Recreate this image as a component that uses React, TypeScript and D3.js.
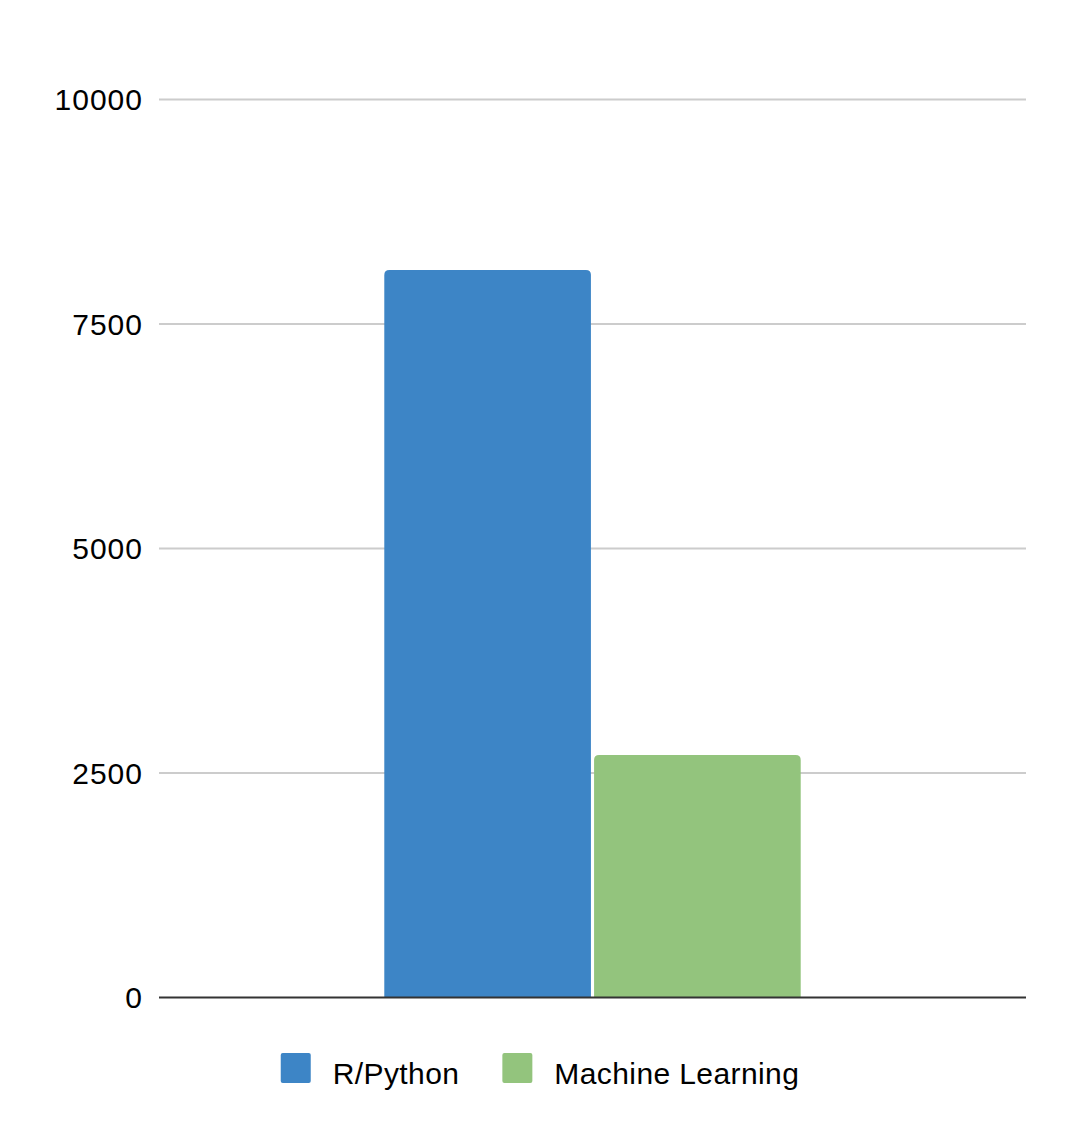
import React, { useEffect, useRef } from 'react';
import * as d3 from 'd3';

const categories = [''];
const seriesNames = ['R/Python', 'Machine Learning'];
const seriesValues = [8100, 2700];
const seriesColors = ['#3d85c6', '#93c47d'];
const yTicks = [0, 2500, 5000, 7500, 10000];

const WIDTH = 1080;
const HEIGHT = 1129;
const FONT = '"Liberation Sans", Arial, sans-serif';

// path for a bar with rounded top corners only
const barPath = (x: number, y: number, w: number, h: number, r: number) => {
  const rr = Math.min(r, w / 2, h);
  return `M${x},${y + h}V${y + rr}Q${x},${y} ${x + rr},${y}H${x + w - rr}Q${x + w},${y} ${x + w},${y + rr}V${y + h}Z`;
};

const App: React.FC = () => {
  const svgRef = useRef<SVGSVGElement | null>(null);

  useEffect(() => {
    const svg = d3.select(svgRef.current);
    svg.selectAll('*').remove();

    const left = 159;
    const right = 1026;
    const y = d3.scaleLinear().domain([0, 10000]).range([997.5, 99.5]);

    const x0 = d3.scaleBand<string>().domain(categories).range([left, right]).paddingInner(0).paddingOuter(0.541);
    const x1 = d3.scaleBand<string>().domain(seriesNames).range([0, x0.bandwidth()]).paddingInner(0.015);

    // gridlines
    svg.append('g')
      .selectAll('line')
      .data(yTicks.filter((t) => t !== 0))
      .enter()
      .append('line')
      .attr('x1', left)
      .attr('x2', right)
      .attr('y1', (d) => y(d))
      .attr('y2', (d) => y(d))
      .attr('stroke', '#cccccc')
      .attr('stroke-width', 2);

    // y labels
    svg.append('g')
      .selectAll('text')
      .data(yTicks)
      .enter()
      .append('text')
      .attr('x', 143)
      .attr('y', (d) => y(d))
      .attr('dy', '0.36em')
      .attr('text-anchor', 'end')
      .attr('font-family', FONT)
      .attr('font-size', 30)
      .attr('letter-spacing', 1)
      .attr('fill', '#000')
      .text((d) => String(d));

    // bars
    categories.forEach((cat) => {
      const g = svg.append('g').attr('transform', `translate(${x0(cat)},0)`);
      g.selectAll('path')
        .data(seriesNames)
        .enter()
        .append('path')
        .attr('d', (s, i) => {
          const top = y(seriesValues[i]);
          return barPath(x1(s) as number, top, x1.bandwidth(), y(0) - top, 5);
        })
        .attr('fill', (_, i) => seriesColors[i]);
    });

    // baseline
    svg.append('line')
      .attr('x1', left)
      .attr('x2', right)
      .attr('y1', y(0))
      .attr('y2', y(0))
      .attr('stroke', '#333333')
      .attr('stroke-width', 2);

    // legend
    const legend = svg.append('g');
    let cursor = 0;
    seriesNames.forEach((name, i) => {
      const item = legend.append('g').attr('transform', `translate(${cursor},0)`);
      item.append('rect')
        .attr('width', 30)
        .attr('height', 30)
        .attr('rx', 2)
        .attr('fill', seriesColors[i]);
      const t = item.append('text')
        .attr('x', 52)
        .attr('y', 31)
        .attr('font-family', FONT)
        .attr('font-size', 30)
        .attr('letter-spacing', 0.4)
        .attr('fill', '#000')
        .text(name);
      const w = (t.node() as SVGTextElement).getComputedTextLength();
      cursor += 52 + w + 43;
    });
    const total = cursor - 43;
    legend.attr('transform', `translate(${WIDTH / 2 - total / 2},1053)`);
  }, []);

  return (
    <svg
      ref={svgRef}
      width={WIDTH}
      height={HEIGHT}
      style={{ position: 'absolute', left: 0, top: 0, background: '#fff' }}
    />
  );
};

export default App;
